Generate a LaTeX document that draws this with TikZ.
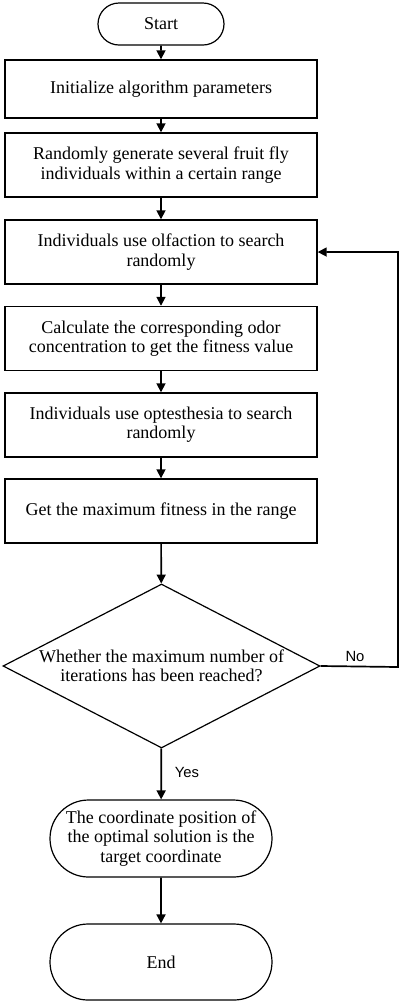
\documentclass[tikz,border=0pt]{standalone}
\usepackage{fontspec}
\setmainfont{Liberation Serif}
\newfontfamily\labfont{Liberation Sans}
\usetikzlibrary{shapes.geometric,shapes.misc,arrows.meta}
\begin{document}
\begin{tikzpicture}[x=0.5pt,y=-0.5pt,
  every node/.style={font=\fontsize{9pt}{9.6pt}\selectfont, align=center, inner sep=0pt},
  procbox/.style={draw, line width=0.7pt, rectangle, minimum width=156pt},
  pill/.style={draw, line width=0.6pt, rounded rectangle},
  decbox/.style={draw, line width=0.6pt, diamond, minimum width=158.5pt, minimum height=82pt},
  lab/.style={font=\labfont\fontsize{7.4pt}{8pt}\selectfont},
  flow/.style={line width=0.85pt, -{Triangle[length=4.5pt,width=4.5pt]}}
]
\useasboundingbox (0,0) rectangle (400,1003);
\node[pill, minimum width=63pt, minimum height=21pt] (start) at (161,24) {Start};
\node[procbox, minimum height=29pt] (b1) at (161,89) {Initialize algorithm parameters};
\node[procbox, minimum height=32pt] (b2) at (161,165) {Randomly generate several fruit fly\\individuals within a certain range};
\node[procbox, minimum height=32pt] (b3) at (161,252) {Individuals use olfaction to search\\randomly};
\node[procbox, minimum height=32pt] (b4) at (161,338.5) {Calculate the corresponding odor\\concentration to get the fitness value};
\node[procbox, minimum height=32pt] (b5) at (161,425) {Individuals use optesthesia to search\\randomly};
\node[procbox, minimum height=32pt] (b6) at (161,511) {Get the maximum fitness in the range};
\node[decbox] (dec) at (161.5,666) {};
\node (dect) at (161.5,666) {Whether the maximum number of\\iterations has been reached?};
\node[pill, minimum width=111pt, minimum height=38.5pt] (res) at (161,838.5) {The coordinate position of\\the optimal solution is the\\target coordinate};
\node[pill, minimum width=111pt, minimum height=38pt] (stop) at (161,962) {End};
\coordinate (c1) at (398,667);
\coordinate (c2) at (398,252);
\node[lab] (no) at (355,656) {No};
\node[lab] (yes) at (187,772) {Yes};
\draw[flow] (start) -- (b1);
\draw[flow] (b1) -- (b2);
\draw[flow] (b2) -- (b3);
\draw[flow] (b3) -- (b4);
\draw[flow] (b4) -- (b5);
\draw[flow] (b5) -- (b6);
\draw[flow] (b6) -- (dec);
\draw[flow] (dec) -- (res);
\draw[flow] (res) -- (stop);
\draw[flow] (dec.east) -- (c1) -- (c2) -- (b3.east);
\end{tikzpicture}
\end{document}
